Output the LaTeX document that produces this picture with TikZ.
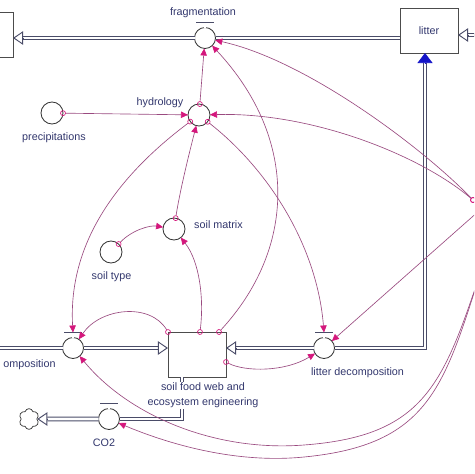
\documentclass[tikz,border=0pt]{standalone}
\usepackage{fontspec}
\setmainfont{Liberation Sans}
\usetikzlibrary{arrows.meta,calc,shapes.symbols}
\definecolor{pipecol}{HTML}{4A4C68}
\definecolor{txtcol}{HTML}{33386E}
\definecolor{linkcol}{HTML}{9A4A80}
\definecolor{headcol}{HTML}{D4177C}
\definecolor{bluehd}{HTML}{1414C8}
\tikzset{%
  stock/.style    = {draw=black!70, line width=0.7pt, rectangle, fill=white,
    minimum width=1.74cm, minimum height=1.35cm, inner sep=0pt, outer sep=0pt},
  valve/.style    = {draw=black!80, line width=0.7pt, circle, fill=white,
    minimum size=0.63cm, inner sep=0pt, outer sep=0pt}, % flow
  aux/.style      = {draw=black!80, line width=0.7pt, circle, fill=white,
    minimum size=0.66cm, inner sep=0pt, outer sep=0pt}, % auxiliary
  sink/.style     = {draw=black!80, line width=0.6pt, cloud, cloud puffs=6,
    aspect=1, minimum width=0.6cm, minimum height=0.62cm, inner sep=0pt},
  lbl/.style      = {text=txtcol, font=\fontsize{9.2}{12.8}\selectfont, inner sep=1pt},
  pipe/.style     = {draw=pipecol, line width=0.9pt, double=white, double distance=2.4pt},
  flowhead/.style = {draw=pipecol, line width=0.8pt,
    -{Triangle[open, length=0.3cm, width=0.4cm]}},
  bluehead/.style = {draw=bluehd, line width=0.6pt,
    -{Triangle[length=0.3cm, width=0.45cm, fill=bluehd]}},
  valvestem/.style= {draw=pipecol, line width=0.5pt, double=white, double distance=1.4pt},
  valvebar/.style = {draw=pipecol, line width=1.6pt},
  link/.style     = {draw=linkcol, line width=0.55pt, shorten <=-2.4pt,
    {Circle[open, length=4.8pt, color=headcol]}-{Triangle[length=6pt, width=5.5pt, color=headcol, fill=headcol]}}
}

\begin{document}
\begin{tikzpicture}[x=0.03cm, y=-0.03cm]
\useasboundingbox (0,0) rectangle (474,474);
\clip (0,0) rectangle (474,474);
\fill[white] (0,0) rectangle (474,474);
\draw
    node at(-16,35)[stock,name=lstock]{}
    node at(429,30.5)[stock,lbl,name=litter]{litter}
    node at(197,354.5)[stock,name=sfw]{}
    node at(29,419)[sink,name=cloud]{}

    node at(205,38)[valve,name=frag]{}
    node at(73,348)[valve,name=decomp]{}
    node at(324,348)[valve,name=litdec]{}
    node at(109,419)[valve,name=co2]{}

    node at(199,115)[aux,name=hydro]{}
    node at(52,113)[aux,name=prec]{}
    node at(174,229)[aux,name=smat]{}
    node at(111,252)[aux,name=stype]{}

    node at(203,13)[lbl,name=fraglbl]{fragmentation}
    node at(160,102.5)[lbl,name=hydrolbl]{hydrology}
    node at(54,138)[lbl,name=preclbl]{precipitations}
    node at(218.5,225)[lbl,name=smatlbl]{soil matrix}
    node at(111.5,277)[lbl,name=stypelbl]{soil type}
    node at(29.5,365)[lbl,name=decomplbl]{omposition}
    node at(357.5,372.5)[lbl,name=litdeclbl]{litter decomposition}
    node at(104,442.5)[lbl,name=co2lbl]{CO2}
;

\coordinate (dsrc) at (-10,348);
\coordinate (lsrc) at (490,35);
\coordinate (lcorner) at (425,348);
\coordinate (ccorner) at (182,419);
\coordinate (rdot) at (473,200);
\coordinate (rlow) at (480,210);
\coordinate (rbot) at (482,268);

% pipes
    \draw[pipe] (frag -| litter.west) -- (frag);
    \draw[pipe, shorten >=0.3cm] (frag) -- (frag -| lstock.east);
    \draw[flowhead] ($(frag -| lstock.east)+(10,0)$) -- (frag -| lstock.east);

    \draw[pipe, shorten >=0.3cm] (lsrc) -- (lsrc -| litter.east);
    \draw[flowhead] ($(lsrc -| litter.east)+(10,0)$) -- (lsrc -| litter.east);

    \draw[pipe] (dsrc) -- (decomp);
    \draw[pipe, shorten >=0.3cm] (decomp) -- (decomp -| sfw.west);
    \draw[flowhead] ($(decomp -| sfw.west)+(-10,0)$) -- (decomp -| sfw.west);

    \draw[pipe, shorten <=0.3cm] (lcorner |- litter.south) -- (lcorner) -- (litdec);
    \draw[bluehead] ($(lcorner |- litter.south)+(0,10)$) -- (lcorner |- litter.south);
    \draw[pipe, shorten >=0.3cm] (litdec) -- (litdec -| sfw.east);
    \draw[flowhead] ($(litdec -| sfw.east)+(10,0)$) -- (litdec -| sfw.east);

    \draw[pipe] (ccorner |- sfw.south) -- (ccorner) -- (co2);
    \draw[pipe, shorten >=0.3cm] (co2) -- (cloud.east);
    \draw[flowhead] ($(cloud.east)+(10,0)$) -- (cloud.east);

\foreach \v in {frag,decomp,litdec,co2}{
    \draw[valvestem] (\v.north) -- ++(0,-5);
    \draw[valvebar] ($(\v.north)+(-9,-5)$) -- ++(18,0);
}

\node at(203,395.5)[lbl,fill=white,align=center,name=sfwlbl]{soil food web and\\ecosystem engineering};

% links
    \draw[link] (prec) -- (hydro);
    \draw[link] (hydro) -- (frag);
    \draw[link] (smat) .. controls (180,190) and (190,150) .. (hydro);
    \draw[link] (stype) .. controls (132,230) and (150,225) .. (smat);
    \draw[link] ($(sfw.north)+(3,0)$) .. controls (204,300) and (200,262) .. (smat);
    \draw[link] (sfw.north west) .. controls (150,302) and (100,308) .. (decomp);
    \draw[link] ($(sfw.north east)+(-7,0)$) .. controls (295,250) and (300,140) .. (frag);
    \draw[link] ($(sfw.east)+(0,7.5)$) .. controls (245,372) and (285,372) .. (litdec);
    \draw[link] (hydro) .. controls (115,178) and (68,245) .. ($(decomp.north)+(0,-5)$);
    \draw[link] (hydro) .. controls (269,170) and (317,246) .. ($(litdec.north)+(0,-5)$);
    \draw[link] (rdot) .. controls (423,148) and (306,60) .. (frag);
    \draw[link] (rdot) .. controls (420,155) and (312,112) .. (hydro);
    \draw[link] (rlow) -- (litdec);
    \draw[link] (rbot) .. controls (443,385) and (424,436) .. (304,445)
        .. controls (214,452) and (128,415) .. (decomp);
    \draw[link] (rbot) .. controls (444,387) and (429,445) .. (304,457)
        .. controls (234,464) and (166,443) .. (co2);
\end{tikzpicture}
\end{document}
